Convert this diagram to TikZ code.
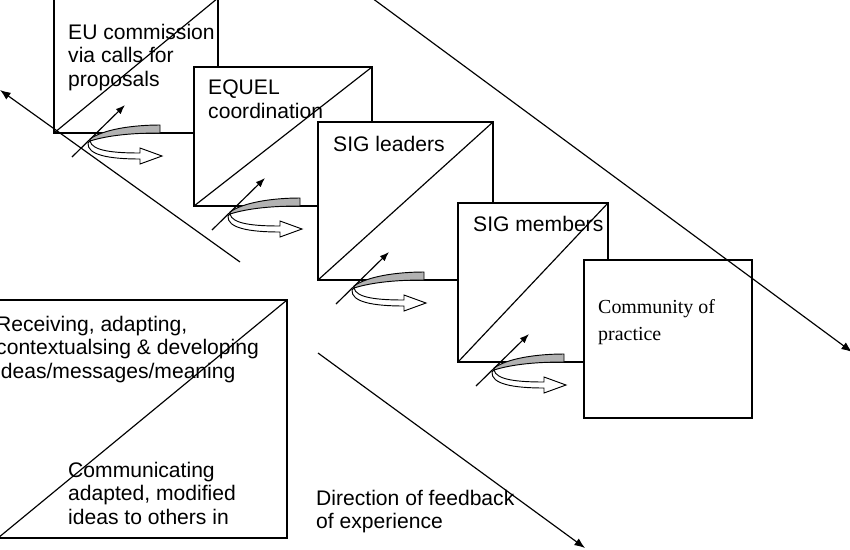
\documentclass[tikz,border=0pt]{standalone}
\usepackage{fontspec}
\setmainfont{Liberation Sans}
\newfontfamily\serifface{Liberation Serif}
\usetikzlibrary{arrows.meta}

\tikzset{
  box/.style={draw,fill=white,line width=1pt},
  axis/.style={line width=1pt,-{Latex[length=9pt,width=7pt]}},
  lbl/.style={anchor=north west,align=left,inner sep=0pt,font=\fontsize{18}{20}\selectfont},
}
% feedback arrows at the lower left corner of a box
\newcommand{\fbloop}[1]{%
  \begin{scope}[shift={#1}]
    \draw[line width=0.8pt,fill=gray!60] (36,6) .. controls (50,-4) and (80,-8) .. (106,-8)
      -- (106,0) .. controls (80,0) and (55,2) .. (36,8) -- cycle;
    \draw[line width=0.8pt,fill=white] (36,8) .. controls (38,18) and (60,20) .. (86,20)
      -- (86,15) -- (108,23) -- (86,31) -- (86,26)
      .. controls (55,26) and (33,22) .. (34,10) -- cycle;
    \draw[line width=1pt,-{Latex[length=8pt,width=6pt]}] (18,24) -- (71,-28);
  \end{scope}}

\begin{document}
\begin{tikzpicture}[x=0.03cm,y=-0.03cm]
\useasboundingbox (0,0) rectangle (850,549);

% boxes, each split by a diagonal
\draw[box] (54,-2) rectangle (218,133);  \draw[box] (54,133) -- (218,-2);
\node[lbl] (eu) at (68,24) {EU commission\\via calls for\\proposals};
\draw[box] (194,67) rectangle (372,206); \draw[box] (194,206) -- (372,67);
\node[lbl] (equel) at (208,80) {EQUEL\\coordination};
\draw[box] (318,122) rectangle (493,280); \draw[box] (318,280) -- (493,122);
\node[lbl] (sigl) at (333,136) {SIG leaders};
\draw[box] (458,203) rectangle (608,362); \draw[box] (458,362) -- (608,203);
\node[lbl] (sigm) at (473,216) {SIG members};
\draw[box] (584,260) rectangle (752,418);
\node[lbl,font=\serifface\fontsize{17}{23}\selectfont] (cop) at (598,299) {Community of\\practice};
\draw[box] (-2,300) rectangle (287,538); \draw[box] (-2,538) -- (287,300);
\node[lbl] (recv) at (-4,316) {Receiving, adapting,\\contextualsing \& developing\\ideas/messages/meaning};
\node[lbl] (comm) at (68,462) {Communicating\\adapted, modified\\ideas to others in};
\node[lbl] (dir) at (316,490) {Direction of feedback\\of experience};

% long direction arrows
\coordinate (f0) at (372,-2);   \coordinate (f1) at (852,352);
\coordinate (b0) at (240,262);  \coordinate (b1) at (0,90);
\coordinate (d0) at (318,353);  \coordinate (d1) at (585,548);
\draw[axis] (f0) -- (f1);
\draw[axis] (b0) -- (b1);
\draw[axis] (d0) -- (d1);

\fbloop{(54,133)}
\fbloop{(194,206)}
\fbloop{(318,280)}
\fbloop{(458,362)}
\end{tikzpicture}
\end{document}
